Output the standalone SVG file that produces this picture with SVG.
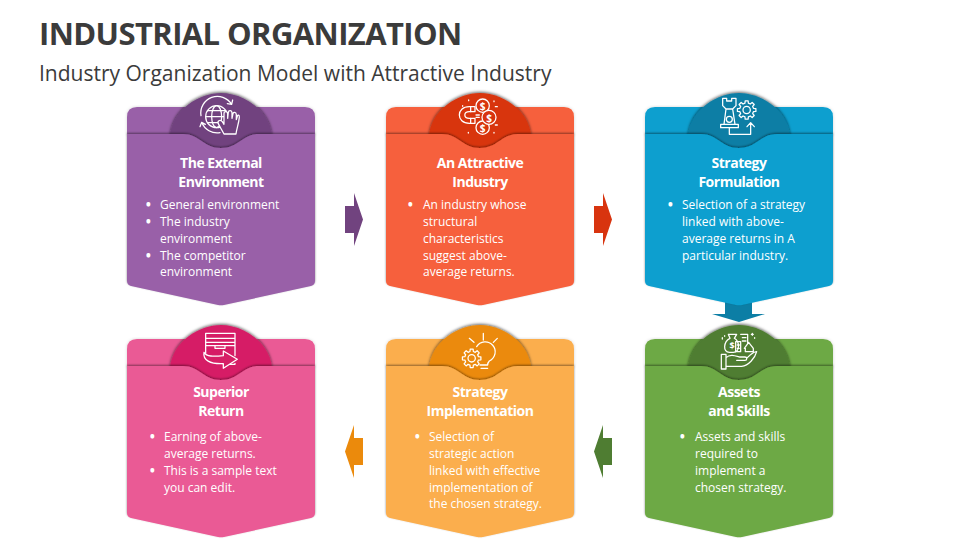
<svg xmlns="http://www.w3.org/2000/svg" xmlns:xlink="http://www.w3.org/1999/xlink" width="960" height="540" viewBox="0 0 960 540">
<style>
text{font-family:"Open Sans","Noto Sans","Liberation Sans",sans-serif}
.h1{font-size:31px;font-weight:700;fill:#3b3b3b;letter-spacing:-.6px}
.h2{font-size:21px;fill:#3b3b3b}
.t{font-size:14px;font-weight:700;fill:#fff;text-anchor:middle;letter-spacing:-.5px}
.b{font-size:12px;fill:#fff;font-weight:500}
.bl{font-weight:800}
.i{fill:none;stroke:#fff;stroke-width:3.800;stroke-linecap:round;stroke-linejoin:round}
.purple{--m:#9961a8;--d:#71437f}.red{--m:#f6603c;--d:#d8340f}.blue{--m:#0a9fcf;--d:#0c7ea5}
.green{--m:#6da944;--d:#4f7d32}.amber{--m:#fbae4e;--d:#eb8a0c}.pink{--m:#ea5a95;--d:#d61f66}
.m{fill:var(--m)}.d{fill:var(--d)}
.i .o{fill:var(--d)}
</style>
<defs>
<filter id="s1" x="-20%" y="-30%" width="140%" height="140%"><feDropShadow dx="0" dy="-1" stdDeviation="1.800" flood-color="#000" flood-opacity=".6"/></filter>
<filter id="s2" x="-5%" y="-5%" width="110%" height="110%"><feDropShadow dx="0" dy="-1" stdDeviation="1" flood-color="#000" flood-opacity=".45"/></filter>
<filter id="s3" x="-5%" y="-5%" width="110%" height="110%"><feDropShadow dx="0" dy="0" stdDeviation="1.500" flood-color="#000" flood-opacity=".18"/></filter>
<path id="head" d="M0 28V10Q0 0 10 0H178Q188 0 188 10V28Z"/>
<path id="dome" d="M43 29C45 3 72-14 94-14C116-14 143 3 145 29L132 43H56Z"/>
<path id="body" d="M0 27H56C73 27 76 41 94 41C112 41 115 27 132 27H188V174Q188 178 184 179L97 198Q94 198.500 91 198L4 179Q0 178 0 174Z"/>
<g id="gear"><polygon class="o" points="20.400,-5.100 27.700,-4.400 27.700,4.400 20.400,5.100 18,10.800 22.700,16.500 16.500,22.700 10.800,18 5.100,20.400 4.400,27.700 -4.400,27.700 -5.100,20.400 -10.800,18 -16.500,22.700 -22.700,16.500 -18,10.800 -20.400,5.100 -27.700,4.400 -27.700,-4.400 -20.400,-5.100 -18,-10.800 -22.700,-16.500 -16.500,-22.700 -10.800,-18 -5.100,-20.400 -4.400,-27.700 4.400,-27.700 5.100,-20.400 10.800,-18 16.500,-22.700 22.700,-16.500 18,-10.800"/><circle cx="0" cy="0" r="11"/></g>
</defs>

<text class="h1" x="39" y="45">INDUSTRIAL ORGANIZATION</text>
<text class="h2" x="39" y="81">Industry Organization Model with Attractive Industry</text>

<g id="connectors">
<path fill="#71437f" d="M345 206H354V193L363 219.500L354 246V233H345Z"/>
<path fill="#d8340f" d="M594 206H603V193L612 219.500L603 246V233H594Z"/>
<path fill="#0c7ea5" d="M725 300H752V314H765L739 322L712 314H725Z"/>
<path fill="#4f7d32" d="M612 438H603V425L594 451.500L603 478V465H612Z"/>
<path fill="#eb8a0c" d="M363 438H354V425L345 451.500L354 478V465H363Z"/>
</g>

<g id="node-external" class="purple" transform="translate(127 107)">
<use href="#head" class="m" filter="url(#s3)"/><use href="#dome" class="d" filter="url(#s1)"/><use href="#body" class="m" filter="url(#s2)"/>
<g class="i" transform="translate(-7 -22) scale(.3333)">
<circle cx="290" cy="95" r="33"/><ellipse cx="290" cy="95" rx="15" ry="33"/><path d="M257 95H323M263 77H317M263 113H317"/>
<path d="M243 92A50 50 0 0 1 335 58M335 58L338 45M335 58L322 56M245 112A50 50 0 0 0 300 143M245 112L240 125M245 112L256 118"/>
<path class="o" d="M312 147L296 118C290 108 300 102 307 110L312 118V86C312 78 322 78 323 86V100L325 82C326 75 336 75 336 84V100L339 86C340 80 349 81 349 89V104L352 94C353 88 359 90 358 97C356 118 350 130 348 147Z"/>
</g>
<text class="t" x="94" y="61">The External</text><text class="t" x="94" y="80">Environment</text>
<g class="b"><text class="bl" x="19" y="102">•</text><text x="33" y="102">General environment</text><text class="bl" x="19" y="119">•</text><text x="33" y="119">The industry</text><text x="33" y="136">environment</text><text class="bl" x="19" y="153">•</text><text x="33" y="153">The competitor</text><text x="33" y="169">environment</text></g>
</g>

<g id="node-attractive" class="red" transform="translate(386 107)">
<use href="#head" class="m" filter="url(#s3)"/><use href="#dome" class="d" filter="url(#s1)"/><use href="#body" class="m" filter="url(#s2)"/>
<g class="i" transform="translate(34 -22) scale(.3333)">
<circle cx="188" cy="62" r="20"/><circle cx="188" cy="128" r="20"/><circle class="o" cx="207" cy="97" r="21"/>
<path d="M165 65H148C108 65 108 115 148 115H165V100H148C130 100 130 80 148 80H165Z"/><path d="M152 65V80M152 100V115"/>
<path d="M168 90H178M168 97H178M146 45L146 47M145 142L145 144M128 62L128 64M222 48L222 50M232 65L226 65M232 120L226 120M222 142L222 144"/>
</g>
<g fill="#fff" font-size="10" font-weight="700" text-anchor="middle"><text x="96.700" y="3">$</text><text x="103" y="14.500">$</text><text x="96.700" y="25">$</text></g>
<text class="t" x="94" y="61">An Attractive</text><text class="t" x="94" y="80">Industry</text>
<g class="b"><text class="bl" x="22" y="102">•</text><text x="37" y="102">An industry whose</text><text x="37" y="119">structural</text><text x="37" y="136">characteristics</text><text x="37" y="153">suggest above-</text><text x="37" y="169">average returns.</text></g>
</g>

<g id="node-formulation" class="blue" transform="translate(645 107)">
<use href="#head" class="m" filter="url(#s3)"/><use href="#dome" class="d" filter="url(#s1)"/><use href="#body" class="m" filter="url(#s2)"/>
<g class="i" transform="translate(35 -22) scale(.3333)">
<path d="M128 40H140V48H155V40H168V62L158 72L165 118H132L138 72L128 62ZM122 118H175V128H122ZM138 72H158"/>
<circle cx="148" cy="103" r="9"/>
<path d="M148 128V148H212V115M201 125L212 113L223 125"/>
<use href="#gear" x="200" y="75"/>
</g>
<text class="t" x="94" y="61">Strategy</text><text class="t" x="94" y="80">Formulation</text>
<g class="b"><text class="bl" x="23" y="102">•</text><text x="37" y="102">Selection of a strategy</text><text x="37" y="119">linked with above-</text><text x="37" y="136">average returns in A</text><text x="37" y="153">particular industry.</text></g>
</g>

<g id="node-assets" class="green" transform="translate(645 339)">
<use href="#head" class="m" filter="url(#s3)"/><use href="#dome" class="d" filter="url(#s1)"/><use href="#body" class="m" filter="url(#s2)"/>
<g class="i" transform="translate(35 -44) scale(.3333)">
<path d="M145 118L170 118L163 130C180 140 180 172 160 172H148C128 172 130 140 150 130Z"/>
<path d="M167 140H182V170H167ZM182 118H203V146M172 150H178M172 160H178M187 128H198M187 138H198"/>
<path class="o" d="M193 160L206 142L220 160V170H196V160Z"/>
<path d="M124 178H138V222H124ZM138 188C150 176 165 182 178 186H195C202 186 202 196 195 196H170M138 214H185C205 212 225 190 230 170C222 170 212 178 202 188"/>
<path d="M127 128L127 132M134 122L134 124M214 118L220 118M217 115L217 121M224 128L224 130"/>
</g>
<g fill="#fff" font-size="9" font-weight="700" text-anchor="middle"><text x="87" y="10">$</text></g>
<text class="t" x="94" y="58">Assets</text><text class="t" x="94" y="77">and Skills</text>
<g class="b"><text class="bl" x="35" y="102">•</text><text x="50" y="102">Assets and skills</text><text x="50" y="119">required to</text><text x="50" y="136">implement a</text><text x="50" y="153">chosen strategy.</text></g>
</g>

<g id="node-implementation" class="amber" transform="translate(386 339)">
<use href="#head" class="m" filter="url(#s3)"/><use href="#dome" class="d" filter="url(#s1)"/><use href="#body" class="m" filter="url(#s2)"/>
<g class="i" transform="translate(34 -14) scale(.3333)">
<path d="M190 25V45M148 40L162 52M232 40L220 52"/>
<path d="M170 65A30 30 0 1 1 208 108C203 113 203 116 203 120H180"/>
<path d="M183 130H203"/>
<use href="#gear" x="155" y="100"/>
</g>
<text class="t" x="94" y="58">Strategy</text><text class="t" x="94" y="77">Implementation</text>
<g class="b"><text class="bl" x="29" y="102">•</text><text x="43" y="102">Selection of</text><text x="43" y="119">strategic action</text><text x="43" y="136">linked with effective</text><text x="43" y="153">implementation of</text><text x="43" y="169">the chosen strategy.</text></g>
</g>

<g id="node-superior" class="pink" transform="translate(127 339)">
<use href="#head" class="m" filter="url(#s3)"/><use href="#dome" class="d" filter="url(#s1)"/><use href="#body" class="m" filter="url(#s2)"/>
<g class="i" transform="translate(33 -14) scale(.3333)">
<path d="M137 25H225V62H137ZM137 40H225M137 52H225M165 62V70H195V62M137 62V85M225 62V92M225 115V118H190"/>
<path class="o" d="M132 82C128 105 150 118 190 116V130L232 103L190 78V92C160 95 140 95 132 82Z"/>
</g>
<text class="t" x="94" y="58">Superior</text><text class="t" x="94" y="77">Return</text>
<g class="b"><text class="bl" x="23" y="102">•</text><text x="37" y="102">Earning of above-</text><text x="37" y="119">average returns.</text><text class="bl" x="23" y="136">•</text><text x="37" y="136">This is a sample text</text><text x="37" y="153">you can edit.</text></g>
</g>
</svg>
